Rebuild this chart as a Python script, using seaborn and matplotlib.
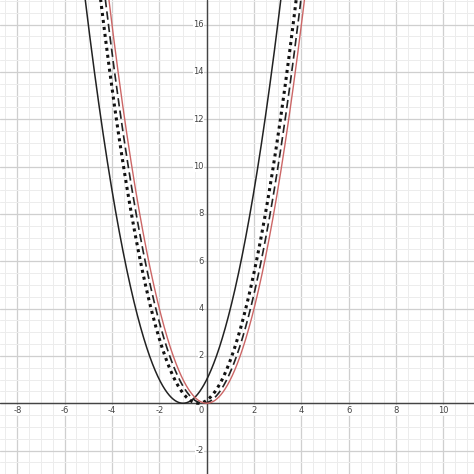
import numpy as np
import pandas as pd
import matplotlib
matplotlib.use("Agg")
import matplotlib.pyplot as plt
from matplotlib.ticker import MultipleLocator
import seaborn as sns

# Parabolas y = (x + shift)^2
curve_names = ["solid", "dotted", "dashed", "red"]
curve_shifts = [1.0, 0.35, 0.15, 0.0]
curve_colors = ["#222222", "#111111", "#222222", "#cc6666"]

x_tick_labels = [-8, -6, -4, -2, 2, 4, 6, 8, 10]
y_tick_labels = [-2, 2, 4, 6, 8, 10, 12, 14, 16]

sns.set_theme(style="white")
plt.rcParams['font.family'] = ['DejaVu Sans']

xs = np.linspace(-8.73, 11.29, 2000)
frames = []
for name, s in zip(curve_names, curve_shifts):
    frames.append(pd.DataFrame({"x": xs, "y": (xs + s) ** 2, "curve": name}))
df = pd.concat(frames, ignore_index=True)

fig = plt.figure(figsize=(4.74, 4.74), dpi=100)
ax = fig.add_axes([0, 0, 1, 1])
ax.set_xlim(-8.73, 11.29)
ax.set_ylim(-2.99, 17.04)

ax.xaxis.set_major_locator(MultipleLocator(2))
ax.yaxis.set_major_locator(MultipleLocator(2))
ax.xaxis.set_minor_locator(MultipleLocator(0.5))
ax.yaxis.set_minor_locator(MultipleLocator(0.5))
ax.grid(which="major", color="#cfcfcf", lw=0.9)
ax.grid(which="minor", color="#ececec", lw=0.7)
ax.set_axisbelow(True)
ax.tick_params(which="both", length=0, labelbottom=False, labelleft=False)
for sp in ax.spines.values():
    sp.set_visible(False)

ax.axhline(0, color="#444444", lw=1.0, zorder=2)
ax.axvline(0, color="#444444", lw=1.0, zorder=2)

styles = {
    "solid": dict(ls="-", lw=1.1),
    "dotted": dict(ls=(0, (1, 1.3)), lw=2.2),
    "dashed": dict(ls=(0, (5, 2.5)), lw=1.2),
    "red": dict(ls="-", lw=1.0),
}
for name, col in zip(curve_names, curve_colors):
    sub = df[df["curve"] == name]
    sns.lineplot(data=sub, x="x", y="y", ax=ax, color=col, sort=False,
                 estimator=None, legend=False, zorder=3, **styles[name])

ax.set_xlabel("")
ax.set_ylabel("")

lab_kw = dict(fontsize=6, color="#444444", zorder=4,
              bbox=dict(facecolor="white", edgecolor="none", pad=0.3))
for v in x_tick_labels:
    ax.text(v, -0.3, str(v), ha="center", va="center", **lab_kw)
for v in y_tick_labels:
    ax.text(-0.12, v, str(v), ha="right", va="center", **lab_kw)
ax.text(-0.12, -0.3, "0", ha="right", va="center", **lab_kw)

fig.savefig("out.png", dpi=100)
